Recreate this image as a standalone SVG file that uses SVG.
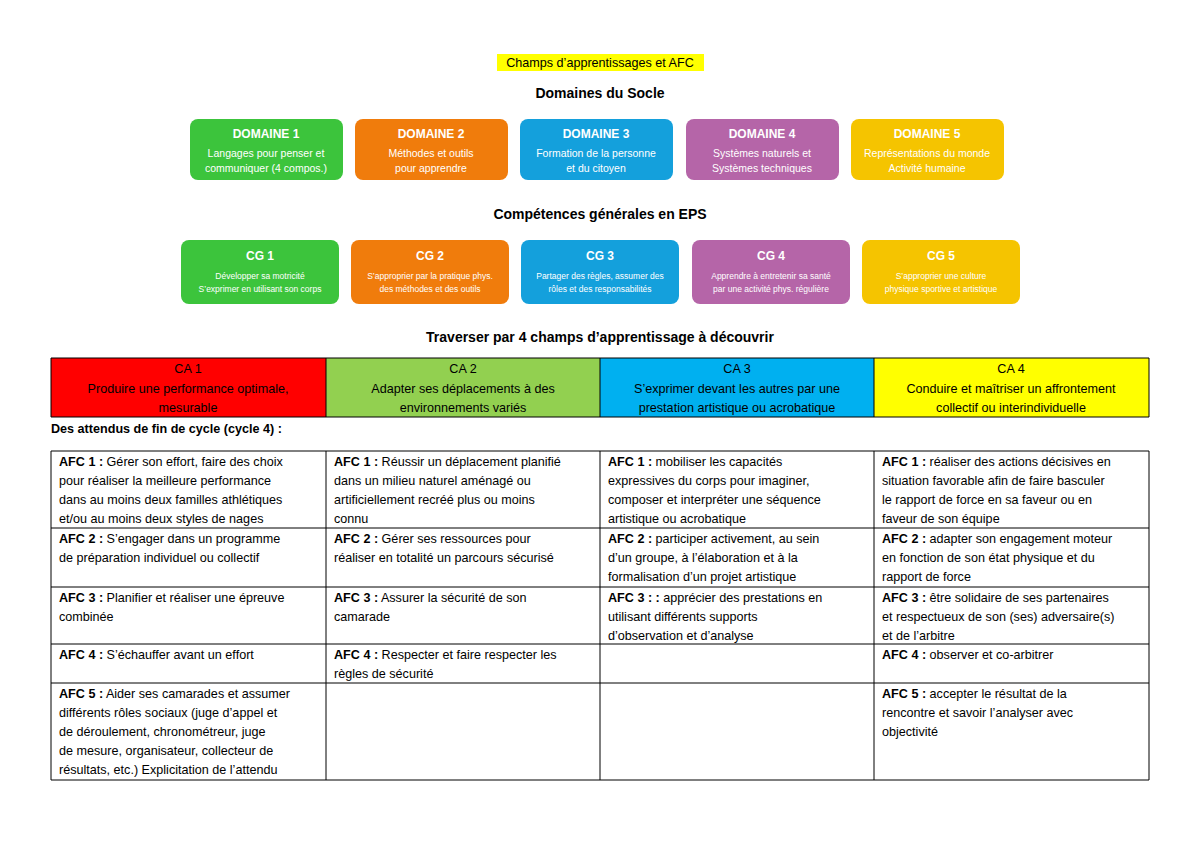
<svg xmlns="http://www.w3.org/2000/svg" width="1200" height="849" viewBox="0 0 1200 849">
<style>
text{font-family:"Liberation Sans",Arial,sans-serif;fill:#000}
.h{font-size:14px;font-weight:bold;text-anchor:middle}
.bt{font-size:12px;font-weight:bold;fill:#fff;text-anchor:middle}
.bs{font-size:10.5px;fill:#fff;text-anchor:middle}
.cs{font-size:8.5px;fill:#fff;text-anchor:middle}
.t{font-size:12.6px}
.c{font-size:12.6px;text-anchor:middle}
.g{stroke:#000;stroke-width:1;fill:none}
</style>
<rect width="1200" height="849" fill="#fff"/>
<rect x="497" y="54" width="207" height="17" fill="#ffff00"/>
<text class="c" x="600" y="67">Champs d’apprentissages et AFC</text>
<text class="h" x="600" y="98">Domaines du Socle</text>
<g id="d1"><rect x="190" y="119" width="153" height="61" rx="8" fill="#3cc43c"/><text class="bt" x="266" y="138">DOMAINE 1</text><text class="bs" x="266" y="157">Langages pour penser et</text><text class="bs" x="266" y="172">communiquer (4 compos.)</text></g>
<g id="d2"><rect x="355" y="119" width="153" height="61" rx="8" fill="#f07c0c"/><text class="bt" x="431" y="138">DOMAINE 2</text><text class="bs" x="431" y="157">Méthodes et outils</text><text class="bs" x="431" y="172">pour apprendre</text></g>
<g id="d3"><rect x="520" y="119" width="153" height="61" rx="8" fill="#14a0dc"/><text class="bt" x="596" y="138">DOMAINE 3</text><text class="bs" x="596" y="157">Formation de la personne</text><text class="bs" x="596" y="172">et du citoyen</text></g>
<g id="d4"><rect x="686" y="119" width="153" height="61" rx="8" fill="#b565a8"/><text class="bt" x="762" y="138">DOMAINE 4</text><text class="bs" x="762" y="157">Systèmes naturels et</text><text class="bs" x="762" y="172">Systèmes techniques</text></g>
<g id="d5"><rect x="851" y="119" width="153" height="61" rx="8" fill="#f5c400"/><text class="bt" x="927" y="138">DOMAINE 5</text><text class="bs" x="927" y="157">Représentations du monde</text><text class="bs" x="927" y="172">Activité humaine</text></g>
<text class="h" x="600" y="219">Compétences générales en EPS</text>
<g id="cg1"><rect x="181" y="240" width="158" height="64" rx="8" fill="#3cc43c"/><text class="bt" x="260" y="260">CG 1</text><text class="cs" x="260" y="279">Développer sa motricité</text><text class="cs" x="260" y="292">S’exprimer en utilisant son corps</text></g>
<g id="cg2"><rect x="351" y="240" width="158" height="64" rx="8" fill="#f07c0c"/><text class="bt" x="430" y="260">CG 2</text><text class="cs" x="430" y="279">S’approprier par la pratique phys.</text><text class="cs" x="430" y="292">des méthodes et des outils</text></g>
<g id="cg3"><rect x="521" y="240" width="158" height="64" rx="8" fill="#14a0dc"/><text class="bt" x="600" y="260">CG 3</text><text class="cs" x="600" y="279">Partager des règles, assumer des</text><text class="cs" x="600" y="292">rôles et des responsabilités</text></g>
<g id="cg4"><rect x="692" y="240" width="158" height="64" rx="8" fill="#b565a8"/><text class="bt" x="771" y="260">CG 4</text><text class="cs" x="771" y="279">Apprendre à entretenir sa santé</text><text class="cs" x="771" y="292">par une activité phys. régulière</text></g>
<g id="cg5"><rect x="862" y="240" width="158" height="64" rx="8" fill="#f5c400"/><text class="bt" x="941" y="260">CG 5</text><text class="cs" x="941" y="279">S’approprier une culture</text><text class="cs" x="941" y="292">physique sportive et artistique</text></g>
<text class="h" x="600" y="342">Traverser par 4 champs d’apprentissage à découvrir</text>
<g id="ca">
<rect x="51" y="358" width="275" height="59" fill="#ff0000"/>
<rect x="326" y="358" width="274" height="59" fill="#92d050"/>
<rect x="600" y="358" width="274" height="59" fill="#00b0f0"/>
<rect x="874" y="358" width="275" height="59" fill="#ffff00"/>
<path class="g" d="M51 358H1149V417H51ZM326 358V417M600 358V417M874 358V417"/>
<text class="c" x="188" y="373">CA 1</text><text class="c" x="188" y="393">Produire une performance optimale,</text><text class="c" x="188" y="412">mesurable</text>
<text class="c" x="463" y="373">CA 2</text><text class="c" x="463" y="393">Adapter ses déplacements à des</text><text class="c" x="463" y="412">environnements variés</text>
<text class="c" x="737" y="373">CA 3</text><text class="c" x="737" y="393">S’exprimer devant les autres par une</text><text class="c" x="737" y="412">prestation artistique ou acrobatique</text>
<text class="c" x="1011" y="373">CA 4</text><text class="c" x="1011" y="393">Conduire et maîtriser un affrontement</text><text class="c" x="1011" y="412">collectif ou interindividuelle</text>
</g>
<text class="t" x="51" y="433" font-weight="bold">Des attendus de fin de cycle (cycle 4) :</text>
<g id="afc">
<path class="g" d="M51 451H1149V780H51ZM326 451V780M600 451V780M874 451V780M51 528H1149M51 587H1149M51 644H1149M51 683H1149"/>
<g class="t">
<text x="59" y="466"><tspan font-weight="bold">AFC 1 :</tspan> Gérer son effort, faire des choix</text>
<text x="59" y="485">pour réaliser la meilleure performance</text>
<text x="59" y="504">dans au moins deux familles athlétiques</text>
<text x="59" y="523">et/ou au moins deux styles de nages</text>
<text x="59" y="543"><tspan font-weight="bold">AFC 2 :</tspan> S’engager dans un programme</text>
<text x="59" y="562">de préparation individuel ou collectif</text>
<text x="59" y="602"><tspan font-weight="bold">AFC 3 :</tspan> Planifier et réaliser une épreuve</text>
<text x="59" y="621">combinée</text>
<text x="59" y="659"><tspan font-weight="bold">AFC 4 :</tspan> S’échauffer avant un effort</text>
<text x="59" y="698"><tspan font-weight="bold">AFC 5 :</tspan> Aider ses camarades et assumer</text>
<text x="59" y="717">différents rôles sociaux (juge d’appel et</text>
<text x="59" y="736">de déroulement, chronométreur, juge</text>
<text x="59" y="755">de mesure, organisateur, collecteur de</text>
<text x="59" y="774">résultats, etc.) Explicitation de l’attendu</text>

<text x="334" y="466"><tspan font-weight="bold">AFC 1 :</tspan> Réussir un déplacement planifié</text>
<text x="334" y="485">dans un milieu naturel aménagé ou</text>
<text x="334" y="504">artificiellement recréé plus ou moins</text>
<text x="334" y="523">connu</text>
<text x="334" y="543"><tspan font-weight="bold">AFC 2 :</tspan> Gérer ses ressources pour</text>
<text x="334" y="562">réaliser en totalité un parcours sécurisé</text>
<text x="334" y="602"><tspan font-weight="bold">AFC 3 :</tspan> Assurer la sécurité de son</text>
<text x="334" y="621">camarade</text>
<text x="334" y="659"><tspan font-weight="bold">AFC 4 :</tspan> Respecter et faire respecter les</text>
<text x="334" y="678">règles de sécurité</text>

<text x="608" y="466"><tspan font-weight="bold">AFC 1 :</tspan> mobiliser les capacités</text>
<text x="608" y="485">expressives du corps pour imaginer,</text>
<text x="608" y="504">composer et interpréter une séquence</text>
<text x="608" y="523">artistique ou acrobatique</text>
<text x="608" y="543"><tspan font-weight="bold">AFC 2 :</tspan> participer activement, au sein</text>
<text x="608" y="562">d’un groupe, à l’élaboration et à la</text>
<text x="608" y="581">formalisation d’un projet artistique</text>
<text x="608" y="602"><tspan font-weight="bold">AFC 3 : :</tspan> apprécier des prestations en</text>
<text x="608" y="621">utilisant différents supports</text>
<text x="608" y="640">d’observation et d’analyse</text>

<text x="882" y="466"><tspan font-weight="bold">AFC 1 :</tspan> réaliser des actions décisives en</text>
<text x="882" y="485">situation favorable afin de faire basculer</text>
<text x="882" y="504">le rapport de force en sa faveur ou en</text>
<text x="882" y="523">faveur de son équipe</text>
<text x="882" y="543"><tspan font-weight="bold">AFC 2 :</tspan> adapter son engagement moteur</text>
<text x="882" y="562">en fonction de son état physique et du</text>
<text x="882" y="581">rapport de force</text>
<text x="882" y="602"><tspan font-weight="bold">AFC 3 :</tspan> être solidaire de ses partenaires</text>
<text x="882" y="621">et respectueux de son (ses) adversaire(s)</text>
<text x="882" y="640">et de l’arbitre</text>
<text x="882" y="659"><tspan font-weight="bold">AFC 4 :</tspan> observer et co-arbitrer</text>
<text x="882" y="698"><tspan font-weight="bold">AFC 5 :</tspan> accepter le résultat de la</text>
<text x="882" y="717">rencontre et savoir l’analyser avec</text>
<text x="882" y="736">objectivité</text>
</g>
</g>
</svg>
